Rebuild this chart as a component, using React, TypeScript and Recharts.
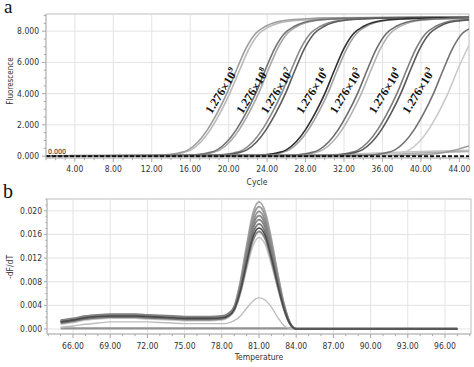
import React from 'react';
import { LineChart, Line, XAxis, YAxis, ReferenceLine, ReferenceArea, ReferenceDot } from 'recharts';

type Pt = [number, number];

// ---------- Panel a: amplification curves ----------
const ampMajorX = [4, 8, 12, 16, 20, 24, 28, 32, 36, 40, 44];
const ampMajorY = [0, 2, 4, 6, 8];
const ampTicksX = [1, 2, 3, 4, 5, 6, 7, 8, 9, 10, 11, 12, 13, 14, 15, 16, 17, 18, 19, 20, 21, 22, 23, 24, 25, 26, 27, 28, 29, 30, 31, 32, 33, 34, 35, 36, 37, 38, 39, 40, 41, 42, 43, 44, 45];
const ampTicksY = [0, 0.5, 1, 1.5, 2, 2.5, 3, 3.5, 4, 4.5, 5, 5.5, 6, 6.5, 7, 7.5, 8, 8.5, 9];

const ampA1: Pt[] = [[1, 0.02], [9.8, 0.03], [12.8, 0.05], [13.8, 0.1], [14.8, 0.2], [15.8, 0.4], [16.8, 0.9], [17.8, 1.7], [18.8, 2.75], [19.8, 4.0], [20.8, 5.5], [21.8, 6.9], [22.8, 7.85], [23.8, 8.3], [24.8, 8.55], [25.8, 8.68], [27.8, 8.78], [30.8, 8.85], [45, 8.9]];
const ampA2: Pt[] = [[1, 0.02], [10.1, 0.03], [13.1, 0.05], [14.1, 0.1], [15.1, 0.2], [16.1, 0.4], [17.1, 0.9], [18.1, 1.7], [19.1, 2.75], [20.1, 4.0], [21.1, 5.45], [22.1, 6.85], [23.1, 7.8], [24.1, 8.25], [25.1, 8.5], [26.1, 8.62], [28.1, 8.72], [31.1, 8.8], [45, 8.85]];
const ampB1: Pt[] = [[1, 0.02], [12.8, 0.03], [15.8, 0.05], [16.8, 0.1], [17.8, 0.2], [18.8, 0.4], [19.8, 0.9], [20.8, 1.7], [21.8, 2.75], [22.8, 4.0], [23.8, 5.5], [24.8, 6.9], [25.8, 7.85], [26.8, 8.3], [27.8, 8.55], [28.8, 8.68], [30.8, 8.78], [33.8, 8.85], [45, 8.9]];
const ampB2: Pt[] = [[1, 0.02], [13.1, 0.03], [16.1, 0.05], [17.1, 0.1], [18.1, 0.2], [19.1, 0.4], [20.1, 0.9], [21.1, 1.7], [22.1, 2.75], [23.1, 4.0], [24.1, 5.5], [25.1, 6.9], [26.1, 7.85], [27.1, 8.3], [28.1, 8.55], [29.1, 8.68], [31.1, 8.78], [34.1, 8.85], [45, 8.88]];
const ampC1: Pt[] = [[1, 0.02], [15.5, 0.03], [18.5, 0.05], [19.5, 0.1], [20.5, 0.2], [21.5, 0.4], [22.5, 0.9], [23.5, 1.7], [24.5, 2.75], [25.5, 4.0], [26.5, 5.5], [27.5, 6.9], [28.5, 7.85], [29.5, 8.3], [30.5, 8.55], [31.5, 8.68], [33.5, 8.78], [36.5, 8.85], [45, 8.88]];
const ampC2: Pt[] = [[1, 0.02], [15.9, 0.03], [18.9, 0.05], [19.9, 0.1], [20.9, 0.2], [21.9, 0.4], [22.9, 0.9], [23.9, 1.7], [24.9, 2.75], [25.9, 4.0], [26.9, 5.5], [27.9, 6.9], [28.9, 7.85], [29.9, 8.3], [30.9, 8.55], [31.9, 8.68], [33.9, 8.78], [36.9, 8.85], [45, 8.88]];
const ampD1: Pt[] = [[1, 0.02], [20, 0.03], [23, 0.05], [24, 0.1], [25, 0.2], [26, 0.4], [27, 0.9], [28, 1.7], [29, 2.75], [30, 4.0], [31, 5.5], [32, 6.9], [33, 7.85], [34, 8.3], [35, 8.55], [36, 8.68], [38, 8.78], [41, 8.85], [45, 8.88]];
const ampD2: Pt[] = [[1, 0.02], [20.3, 0.03], [23.3, 0.05], [24.3, 0.1], [25.3, 0.2], [26.3, 0.4], [27.3, 0.9], [28.3, 1.7], [29.3, 2.75], [30.3, 4.0], [31.3, 5.5], [32.3, 6.9], [33.3, 7.85], [34.3, 8.3], [35.3, 8.55], [36.3, 8.68], [38.3, 8.78], [41.3, 8.85], [45, 8.87]];
const ampE1: Pt[] = [[1, 0.02], [23.4, 0.03], [26.4, 0.05], [27.4, 0.1], [28.4, 0.2], [29.4, 0.4], [30.4, 0.9], [31.4, 1.7], [32.4, 2.75], [33.4, 4.0], [34.4, 5.5], [35.4, 6.9], [36.4, 7.85], [37.4, 8.3], [38.4, 8.55], [39.4, 8.68], [41.4, 8.78], [45, 8.84]];
const ampE2: Pt[] = [[1, 0.02], [23.8, 0.03], [26.8, 0.05], [27.8, 0.1], [28.8, 0.2], [29.8, 0.4], [30.8, 0.9], [31.8, 1.7], [32.8, 2.75], [33.8, 4.0], [34.8, 5.5], [35.8, 6.9], [36.8, 7.85], [37.8, 8.3], [38.8, 8.55], [39.8, 8.68], [41.8, 8.78], [45, 8.82]];
const ampF1: Pt[] = [[1, 0.02], [27.5, 0.03], [30.5, 0.05], [31.5, 0.1], [32.5, 0.2], [33.5, 0.4], [34.5, 0.9], [35.5, 1.7], [36.5, 2.75], [37.5, 4.0], [38.5, 5.5], [39.5, 6.9], [40.5, 7.85], [41.5, 8.3], [42.5, 8.55], [43.5, 8.68], [45, 8.74]];
const ampF2: Pt[] = [[1, 0.02], [27.9, 0.03], [30.9, 0.05], [31.9, 0.1], [32.9, 0.2], [33.9, 0.4], [34.9, 0.9], [35.9, 1.7], [36.9, 2.75], [37.9, 4.0], [38.9, 5.5], [39.9, 6.9], [40.9, 7.85], [41.9, 8.3], [42.9, 8.55], [43.9, 8.66], [45, 8.72]];
const ampG1: Pt[] = [[1, 0.02], [31.3, 0.03], [34.3, 0.05], [35.3, 0.1], [36.3, 0.2], [37.3, 0.4], [38.3, 0.9], [39.3, 1.7], [40.3, 2.75], [41.3, 4.0], [42.3, 5.5], [43.3, 6.9], [44.3, 7.85], [45, 8.15]];
const ampG2: Pt[] = [[1, 0.02], [32.8, 0.03], [35.8, 0.05], [36.8, 0.1], [37.8, 0.2], [38.8, 0.4], [39.8, 0.9], [40.8, 1.7], [41.8, 2.75], [42.8, 4.0], [43.8, 5.5], [45, 7.1]];
const ampL1: Pt[] = [[1, 0.02], [28, 0.05], [32, 0.12], [36, 0.22], [40, 0.3], [45, 0.38]];
const ampL2: Pt[] = [[1, 0.02], [34, 0.05], [38, 0.15], [42, 0.25], [45, 0.3]];
const ampL3: Pt[] = [[1, 0.02], [38, 0.05], [41, 0.12], [43, 0.3], [45, 0.65]];

const ampSeries: { id: string; pts: Pt[]; color: string }[] = [
  { id: 'L1', pts: ampL1, color: '#c4c4c4' },
  { id: 'L2', pts: ampL2, color: '#acacac' },
  { id: 'L3', pts: ampL3, color: '#9a9a9a' },
  { id: 'A2', pts: ampA2, color: '#bababa' },
  { id: 'A1', pts: ampA1, color: '#9c9c9c' },
  { id: 'B2', pts: ampB2, color: '#a8a8a8' },
  { id: 'B1', pts: ampB1, color: '#727272' },
  { id: 'C1', pts: ampC1, color: '#8a8a8a' },
  { id: 'C2', pts: ampC2, color: '#5c5c5c' },
  { id: 'D2', pts: ampD2, color: '#a2a2a2' },
  { id: 'D1', pts: ampD1, color: '#2f2f2f' },
  { id: 'E2', pts: ampE2, color: '#b2b2b2' },
  { id: 'E1', pts: ampE1, color: '#6c6c6c' },
  { id: 'F1', pts: ampF1, color: '#7c7c7c' },
  { id: 'F2', pts: ampF2, color: '#585858' },
  { id: 'G2', pts: ampG2, color: '#cacaca' },
  { id: 'G1', pts: ampG1, color: '#727272' },
];

const concLabelCycles = [19.25, 22.48, 25.03, 28.72, 32.2, 36.26, 39.75];
const concLabelExps = ['9', '8', '7', '6', '5', '4', '3'];
const concLabelLevel = 4.17;
const concMantissa = '1.276';
const concTimes = '×';
const concBase = '10';

// ---------- Panel b: melt curves ----------
const meltMajorX = [66, 69, 72, 75, 78, 81, 84, 87, 90, 93, 96];
const meltMajorY = [0, 0.004, 0.008, 0.012, 0.016, 0.02];
const meltTicksX = [64, 65, 66, 67, 68, 69, 70, 71, 72, 73, 74, 75, 76, 77, 78, 79, 80, 81, 82, 83, 84, 85, 86, 87, 88, 89, 90, 91, 92, 93, 94, 95, 96, 97, 98];
const meltTicksY = [0, 0.001, 0.002, 0.003, 0.004, 0.005, 0.006, 0.007, 0.008, 0.009, 0.01, 0.011, 0.012, 0.013, 0.014, 0.015, 0.016, 0.017, 0.018, 0.019, 0.02, 0.021, 0.022];

const meltTemps = [65, 66, 67, 68, 69, 70, 71, 72, 73, 74, 75, 76, 77, 78, 78.5, 79, 79.5, 80, 80.5, 81, 81.5, 82, 82.5, 83, 83.5, 84, 86, 90, 94, 97];
const melt1 = [0.0014, 0.0017, 0.0021, 0.0023, 0.0024, 0.0024, 0.0024, 0.0023, 0.0022, 0.0021, 0.0020, 0.0020, 0.0020, 0.0021, 0.0025, 0.0038, 0.0081, 0.0141, 0.0195, 0.0215, 0.0198, 0.0152, 0.0095, 0.0044, 0.0011, 0, 0, 0, 0, 0];
const melt2 = [0.0013, 0.0016, 0.0020, 0.0022, 0.0023, 0.0023, 0.0023, 0.0022, 0.0021, 0.0020, 0.0019, 0.0019, 0.0019, 0.0020, 0.0024, 0.0037, 0.0078, 0.0136, 0.0188, 0.0207, 0.0191, 0.0146, 0.0092, 0.0043, 0.0010, 0, 0, 0, 0, 0];
const melt3 = [0.0012, 0.0015, 0.0019, 0.0021, 0.0022, 0.0022, 0.0022, 0.0021, 0.0020, 0.0019, 0.0018, 0.0018, 0.0018, 0.0019, 0.0023, 0.0036, 0.0075, 0.0130, 0.0180, 0.0199, 0.0183, 0.0140, 0.0088, 0.0041, 0.0010, 0, 0, 0, 0, 0];
const melt4 = [0.0011, 0.0014, 0.0018, 0.0020, 0.0021, 0.0021, 0.0021, 0.0020, 0.0019, 0.0018, 0.0017, 0.0017, 0.0017, 0.0018, 0.0022, 0.0034, 0.0072, 0.0126, 0.0174, 0.0192, 0.0177, 0.0136, 0.0085, 0.0040, 0.0010, 0, 0, 0, 0, 0];
const melt5 = [0.0015, 0.0018, 0.0022, 0.0024, 0.0025, 0.0025, 0.0025, 0.0024, 0.0023, 0.0022, 0.0021, 0.0021, 0.0021, 0.0022, 0.0026, 0.0037, 0.0070, 0.0121, 0.0168, 0.0185, 0.0171, 0.0131, 0.0082, 0.0038, 0.0009, 0, 0, 0, 0, 0];
const melt6 = [0.0010, 0.0013, 0.0017, 0.0019, 0.0020, 0.0020, 0.0020, 0.0019, 0.0018, 0.0017, 0.0016, 0.0016, 0.0016, 0.0017, 0.0021, 0.0032, 0.0067, 0.0117, 0.0161, 0.0178, 0.0164, 0.0126, 0.0079, 0.0037, 0.0009, 0, 0, 0, 0, 0];
const melt7 = [0.0012, 0.0015, 0.0019, 0.0021, 0.0022, 0.0022, 0.0022, 0.0021, 0.0020, 0.0019, 0.0018, 0.0018, 0.0018, 0.0019, 0.0022, 0.0033, 0.0065, 0.0112, 0.0155, 0.0171, 0.0158, 0.0121, 0.0076, 0.0035, 0.0009, 0, 0, 0, 0, 0];
const melt8 = [0.0013, 0.0016, 0.0020, 0.0022, 0.0023, 0.0023, 0.0023, 0.0022, 0.0021, 0.0020, 0.0019, 0.0019, 0.0019, 0.0020, 0.0023, 0.0033, 0.0062, 0.0108, 0.0149, 0.0165, 0.0152, 0.0116, 0.0073, 0.0034, 0.0008, 0, 0, 0, 0, 0];
const melt9 = [0.0008, 0.0011, 0.0015, 0.0017, 0.0018, 0.0018, 0.0018, 0.0017, 0.0016, 0.0015, 0.0014, 0.0014, 0.0014, 0.0015, 0.0019, 0.0030, 0.0059, 0.0101, 0.0140, 0.0155, 0.0143, 0.0109, 0.0069, 0.0032, 0.0008, 0, 0, 0, 0, 0];
const meltLow = [0.0003, 0.0005, 0.0008, 0.0010, 0.0012, 0.0012, 0.0012, 0.0012, 0.0011, 0.0010, 0.0009, 0.0009, 0.0009, 0.0009, 0.0010, 0.0014, 0.0022, 0.0035, 0.0047, 0.0053, 0.0049, 0.0037, 0.0020, 0.0006, 0.0001, 0, 0, 0, 0, 0];
const meltFlat = [0.0001, 0.0001, 0.0001, 0.0001, 0.0001, 0.0001, 0.0001, 0.0001, 0.0001, 0.0001, 0.0001, 0.0001, 0.0001, 0.0001, 0.0001, 0.0001, 0.0001, 0.0001, 0.0001, 0.0001, 0.0001, 0.0001, 0.0001, 0.0001, 0.0001, 0.0001, 0.0001, 0.0001, 0.0001, 0.0001];

const meltSeries: { key: string; vals: number[]; color: string; w: number }[] = [
  { key: 'flat', vals: meltFlat, color: '#929292', w: 2.2 },
  { key: 'low', vals: meltLow, color: '#bdbdbd', w: 1.4 },
  { key: 'm9', vals: melt9, color: '#c2c2c2', w: 1.5 },
  { key: 'm1', vals: melt1, color: '#a4a4a4', w: 1.8 },
  { key: 'm2', vals: melt2, color: '#979797', w: 1.8 },
  { key: 'm3', vals: melt3, color: '#8e8e8e', w: 1.8 },
  { key: 'm4', vals: melt4, color: '#858585', w: 1.8 },
  { key: 'm5', vals: melt5, color: '#808080', w: 1.8 },
  { key: 'm6', vals: melt6, color: '#777777', w: 1.8 },
  { key: 'm8', vals: melt8, color: '#848484', w: 1.8 },
  { key: 'm7', vals: melt7, color: '#4a4a4a', w: 1.6 },
];

const meltRows = meltTemps.map((t, i) => {
  const row: Record<string, number> = { t };
  meltSeries.forEach((s) => { row[s.key] = s.vals[i]; });
  return row;
});

// ---------- styling helpers ----------
const TICK_FONT = "'DejaVu Sans Condensed', 'DejaVu Sans', sans-serif";
const SERIF = "'Liberation Serif', 'Times New Roman', serif";
const AXIS_COLOR = '#bdbdbd';
const GRID_COLOR = '#e3e3e3';

const isIn = (arr: number[], v: number) => arr.some((m) => Math.abs(m - v) < 1e-9);

const makeXTick = (majors: number[], digits: number, size: number, margin: number) => (props: any) => {
  const { x, y, payload } = props;
  const v = payload.value as number;
  const major = isIn(majors, v);
  const axisY = y - size - margin;
  return (
    <g>
      <line x1={x} x2={x} y1={axisY} y2={axisY + (major ? size : size * 0.55)} stroke="#a8a8a8" strokeWidth={1} />
      {major && (
        <text x={x} y={y} dy="0.71em" textAnchor="middle" fontFamily={TICK_FONT} fontSize={8.5} fill="#333">
          {v.toFixed(digits)}
        </text>
      )}
    </g>
  );
};

const makeYTick = (majors: number[], digits: number, size: number, margin: number) => (props: any) => {
  const { x, y, payload } = props;
  const v = payload.value as number;
  const major = isIn(majors, v);
  const axisX = x + size + margin;
  return (
    <g>
      <line x1={axisX - (major ? size : size * 0.55)} x2={axisX} y1={y} y2={y} stroke="#a8a8a8" strokeWidth={1} />
      {major && (
        <text x={x} y={y} dy="0.35em" textAnchor="end" fontFamily={TICK_FONT} fontSize={8.5} fill="#333">
          {v.toFixed(digits)}
        </text>
      )}
    </g>
  );
};

const ConcLabel = ({ cx, cy, exp }: { cx: number; cy: number; exp: string }) => (
  <text
    x={cx}
    y={cy}
    transform={`rotate(-58 ${cx} ${cy})`}
    textAnchor="middle"
    dominantBaseline="central"
    fontFamily={SERIF}
    fontWeight="bold"
    fontSize={12}
    fill="#111"
  >
    {concMantissa}
    <tspan fontSize={13}>{concTimes}</tspan>
    {concBase}
    <tspan dy={-4.5} fontSize={7.5}>{exp}</tspan>
  </text>
);

const AMP_X_DOMAIN: [number, number] = [1, 45];
const AMP_Y_DOMAIN: [number, number] = [-0.12, 9.1];
const MELT_X_DOMAIN: [number, number] = [63.9, 98.1];
const MELT_Y_DOMAIN: [number, number] = [-0.00085, 0.022];

export default function App() {
  return (
    <div style={{ position: 'absolute', left: 0, top: 0, width: 474, height: 367, background: '#fff' }}>
      <div style={{ position: 'absolute', left: 0, top: 0 }}>
        <LineChart width={474} height={190} margin={{ top: 14, right: 5, bottom: 0, left: 0 }}>
          <XAxis
            dataKey="x"
            type="number"
            domain={AMP_X_DOMAIN}
            allowDataOverflow
            ticks={ampTicksX}
            interval={0}
            height={32}
            tickSize={4}
            tickMargin={3.5}
            tickLine={false}
            axisLine={{ stroke: AXIS_COLOR }}
            tick={makeXTick(ampMajorX, 2, 4, 3.5)}
          />
          <YAxis
            type="number"
            domain={AMP_Y_DOMAIN}
            allowDataOverflow
            ticks={ampTicksY}
            interval={0}
            width={46}
            tickSize={4}
            tickMargin={3}
            tickLine={false}
            axisLine={{ stroke: AXIS_COLOR }}
            tick={makeYTick(ampMajorY, 3, 4, 3)}
          />
          {ampMajorX.map((v) => (
            <ReferenceLine key={'gx' + v} x={v} stroke={GRID_COLOR} strokeWidth={1} />
          ))}
          {ampMajorY.map((v) => (
            <ReferenceLine key={'gy' + v} y={v} stroke={GRID_COLOR} strokeWidth={1} />
          ))}
          <ReferenceArea x1={AMP_X_DOMAIN[0]} x2={AMP_X_DOMAIN[1]} y1={AMP_Y_DOMAIN[0]} y2={AMP_Y_DOMAIN[1]} fill="none" stroke={AXIS_COLOR} />
          {ampSeries.map((s) => (
            <Line
              key={s.id}
              data={s.pts.map(([x, y]) => ({ x, y }))}
              dataKey="y"
              type="monotone"
              stroke={s.color}
              strokeWidth={1.6}
              dot={false}
              activeDot={false}
              isAnimationActive={false}
            />
          ))}
          <ReferenceLine y={0} stroke="#111" strokeWidth={2} strokeDasharray="4 2" />
          {concLabelCycles.map((c, i) => (
            <ReferenceDot
              key={'cl' + i}
              x={c}
              y={concLabelLevel}
              r={0}
              shape={(p: any) => <ConcLabel cx={p.cx} cy={p.cy} exp={concLabelExps[i]} />}
            />
          ))}
        </LineChart>
      </div>
      <div style={{ position: 'absolute', left: 0, top: 190 }}>
        <LineChart width={474} height={177} data={meltRows} margin={{ top: 9, right: 3, bottom: 0, left: 0 }}>
          <XAxis
            dataKey="t"
            type="number"
            domain={MELT_X_DOMAIN}
            allowDataOverflow
            ticks={meltTicksX}
            interval={0}
            height={33}
            tickSize={4}
            tickMargin={5}
            tickLine={false}
            axisLine={{ stroke: AXIS_COLOR }}
            tick={makeXTick(meltMajorX, 2, 4, 5)}
          />
          <YAxis
            type="number"
            domain={MELT_Y_DOMAIN}
            allowDataOverflow
            ticks={meltTicksY}
            interval={0}
            width={47}
            tickSize={3}
            tickMargin={2}
            tickLine={false}
            axisLine={{ stroke: AXIS_COLOR }}
            tick={makeYTick(meltMajorY, 3, 3, 2)}
          />
          {meltMajorX.map((v) => (
            <ReferenceLine key={'mgx' + v} x={v} stroke={GRID_COLOR} strokeWidth={1} />
          ))}
          {meltMajorY.map((v) => (
            <ReferenceLine key={'mgy' + v} y={v} stroke={GRID_COLOR} strokeWidth={1} />
          ))}
          <ReferenceArea x1={MELT_X_DOMAIN[0]} x2={MELT_X_DOMAIN[1]} y1={MELT_Y_DOMAIN[0]} y2={MELT_Y_DOMAIN[1]} fill="none" stroke={AXIS_COLOR} />
          {meltSeries.map((s) => (
            <Line
              key={s.key}
              dataKey={s.key}
              type="monotone"
              stroke={s.color}
              strokeWidth={s.w}
              dot={false}
              activeDot={false}
              isAnimationActive={false}
            />
          ))}
        </LineChart>
      </div>
      <svg width={474} height={367} style={{ position: 'absolute', left: 0, top: 0, pointerEvents: 'none' }}>
        <text x={4} y={13} fontFamily={SERIF} fontSize={19} fill="#111">a</text>
        <text x={3} y={198} fontFamily={SERIF} fontSize={20} fill="#111">b</text>
        <text x={48} y={154} fontFamily={TICK_FONT} fontSize={7} fill="#111">0.000</text>
        <text x={257} y={185} textAnchor="middle" fontFamily={TICK_FONT} fontSize={8.5} fill="#333">Cycle</text>
        <text x={259} y={360} textAnchor="middle" fontFamily={TICK_FONT} fontSize={8.5} fill="#333">Temperature</text>
        <text x={10.5} y={81} transform="rotate(-90 10.5 81)" textAnchor="middle" dominantBaseline="central" fontFamily={TICK_FONT} fontSize={8} fill="#333">Fluorescence</text>
        <text x={10} y={267} transform="rotate(-90 10 267)" textAnchor="middle" dominantBaseline="central" fontFamily={TICK_FONT} fontSize={8.5} fill="#333">-dF/dT</text>
      </svg>
    </div>
  );
}
